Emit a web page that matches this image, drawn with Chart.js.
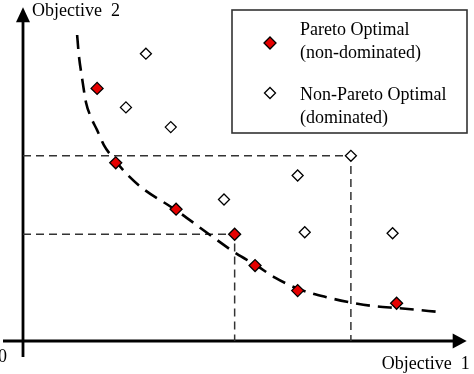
<!DOCTYPE html>
<html>
<head>
<meta charset="utf-8">
<script src="https://cdn.jsdelivr.net/npm/chart.js@4/dist/chart.umd.min.js"></script>
<style>
  html, body { margin: 0; padding: 0; background: #fff; }
  #wrap { width: 474px; height: 374px; position: relative; }
</style>
</head>
<body>
<div id="wrap"><canvas id="c" width="474" height="374"></canvas></div>
<script>
// ---- Data (arbitrary objective units, origin at 0,0) ----
const paretoX = [1.67, 2.09, 3.45, 4.77, 5.23, 6.19, 8.42];
const paretoY = [7.57, 5.34, 3.95, 3.20, 2.26, 1.51, 1.13];

const dominatedX = [2.77, 2.32, 3.33, 4.53, 7.39, 6.19, 6.35, 8.33];
const dominatedY = [8.61, 7.00, 6.41, 4.24, 5.55, 4.96, 3.26, 3.23];

const frontX = [1.22, 1.26, 1.33, 1.42, 1.53, 1.67, 1.82, 2.10, 2.37, 2.70, 3.45, 4.10, 4.82, 5.23, 5.68, 6.19, 6.85, 7.37, 7.88, 8.49, 9.46];
const frontY = [9.17, 8.55, 7.89, 7.15, 6.71, 6.32, 5.88, 5.37, 4.96, 4.57, 3.92, 3.29, 2.61, 2.29, 1.90, 1.57, 1.31, 1.16, 1.05, 0.98, 0.86];

// reference guides: dominated point (7.39, 5.55) and Pareto point (4.77, 3.20)
const guideUpperX = [0, 7.39, 7.39];
const guideUpperY = [5.55, 5.55, 0];
const guideLowerX = [0, 4.77, 4.77];
const guideLowerY = [3.20, 3.20, 0];

const axisLabelX = 'Objective  1';
const axisLabelY = 'Objective  2';
const originLabel = '0';
const legendLabels = [['Pareto Optimal', '(non-dominated)'], ['Non-Pareto Optimal', '(dominated)']];

const zip = (xs, ys) => xs.map((x, i) => ({ x: x, y: ys[i] }));

const FONT = '18px "Liberation Serif", "Times New Roman", serif';
const RED = '#e60000';

function diamond(ctx, x, y, r, fill) {
  ctx.save();
  ctx.beginPath();
  ctx.moveTo(x - r, y);
  ctx.lineTo(x, y - r);
  ctx.lineTo(x + r, y);
  ctx.lineTo(x, y + r);
  ctx.closePath();
  ctx.fillStyle = fill;
  ctx.fill();
  ctx.lineWidth = 1.3;
  ctx.strokeStyle = '#000';
  ctx.stroke();
  ctx.restore();
}

const decor = {
  id: 'decor',
  beforeDatasetsDraw(chart) {
    const ctx = chart.ctx;
    const xs = chart.scales.x, ys = chart.scales.y;
    const ox = xs.getPixelForValue(0), oy = ys.getPixelForValue(0);
    const top = chart.chartArea.top, right = chart.chartArea.right;
    ctx.save();
    ctx.strokeStyle = '#000';
    ctx.fillStyle = '#000';
    ctx.lineWidth = 2.8;
    // y axis
    ctx.beginPath();
    ctx.moveTo(ox, oy + 16);
    ctx.lineTo(ox, top + 14);
    ctx.stroke();
    ctx.beginPath();
    ctx.moveTo(ox, top);
    ctx.lineTo(ox - 7, top + 15);
    ctx.lineTo(ox + 7, top + 15);
    ctx.closePath();
    ctx.fill();
    // x axis
    ctx.beginPath();
    ctx.moveTo(ox - 20, oy);
    ctx.lineTo(right - 12, oy);
    ctx.stroke();
    ctx.beginPath();
    ctx.moveTo(right, oy);
    ctx.lineTo(right - 14, oy - 7.5);
    ctx.lineTo(right - 14, oy + 7.5);
    ctx.closePath();
    ctx.fill();
    // labels
    ctx.font = FONT;
    ctx.textBaseline = 'alphabetic';
    ctx.textAlign = 'left';
    ctx.fillText(axisLabelY, ox + 9, top + 9);
    ctx.fillText(originLabel, ox - 25, oy + 21);
    ctx.textAlign = 'right';
    ctx.fillText(axisLabelX, right + 3, oy + 28);
    ctx.restore();
  },
  afterDatasetsDraw(chart) {
    const ctx = chart.ctx;
    const bx = 232, by = 10, bw = 235, bh = 123;
    ctx.save();
    ctx.fillStyle = '#fff';
    ctx.fillRect(bx, by, bw, bh);
    ctx.lineWidth = 1.6;
    ctx.strokeStyle = '#333';
    ctx.strokeRect(bx, by, bw, bh);
    diamond(ctx, 270, 43, 6, RED);
    diamond(ctx, 270, 93, 5.5, '#fff');
    ctx.font = FONT;
    ctx.fillStyle = '#000';
    ctx.textAlign = 'left';
    ctx.textBaseline = 'alphabetic';
    ctx.fillText(legendLabels[0][0], 300, 35);
    ctx.fillText(legendLabels[0][1], 300, 58);
    ctx.fillText(legendLabels[1][0], 300, 100);
    ctx.fillText(legendLabels[1][1], 300, 123);
    ctx.restore();
  }
};

new Chart(document.getElementById('c'), {
  type: 'scatter',
  data: {
    datasets: [
      { label: 'guide upper', type: 'line', data: zip(guideUpperX, guideUpperY), borderColor: '#333', borderWidth: 1.5, borderDash: [8, 5], pointRadius: 0, fill: false, tension: 0, order: 5 },
      { label: 'guide lower', type: 'line', data: zip(guideLowerX, guideLowerY), borderColor: '#333', borderWidth: 1.5, borderDash: [8, 5], pointRadius: 0, fill: false, tension: 0, order: 4 },
      { label: 'Pareto front', type: 'line', data: zip(frontX, frontY), borderColor: '#000', borderWidth: 2.6, borderDash: [14, 8], pointRadius: 0, fill: false, cubicInterpolationMode: 'monotone', order: 3 },
      { label: 'Non-Pareto Optimal (dominated)', data: zip(dominatedX, dominatedY), pointStyle: 'rectRot', pointRadius: 5.5, pointBackgroundColor: '#fff', pointBorderColor: '#000', pointBorderWidth: 1.3, order: 2 },
      { label: 'Pareto Optimal (non-dominated)', data: zip(paretoX, paretoY), pointStyle: 'rectRot', pointRadius: 6, pointBackgroundColor: RED, pointBorderColor: '#000', pointBorderWidth: 1.3, order: 1 }
    ]
  },
  options: {
    responsive: false,
    animation: false,
    events: [],
    layout: { padding: { left: 23, right: 7, top: 4, bottom: 33 } },
    plugins: { legend: { display: false }, tooltip: { enabled: false } },
    scales: {
      x: { type: 'linear', min: 0, max: 10, display: false },
      y: { type: 'linear', min: 0, max: 10, display: false }
    }
  },
  plugins: [decor]
});
</script>
</body>
</html>
